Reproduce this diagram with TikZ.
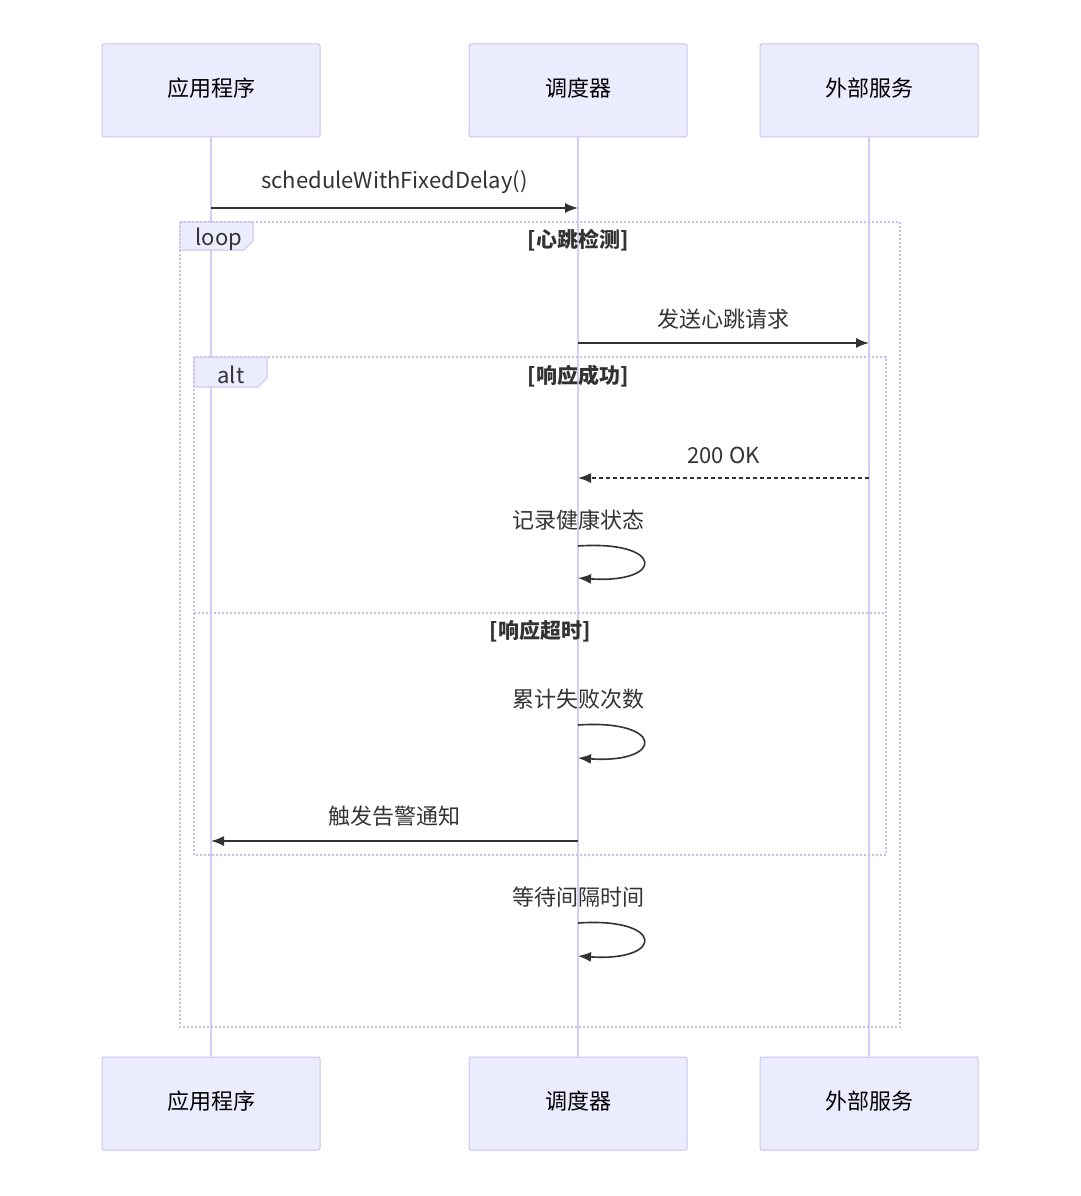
\documentclass[tikz,border=0pt]{standalone}
\usepackage{fontspec}
\setmainfont{Noto Sans CJK SC}
\usepackage{tikz}
\usetikzlibrary{arrows, arrows.meta, positioning, calc}
\definecolor{actorfill}{HTML}{ECECFF}
\definecolor{actorline}{HTML}{CCC3F0}
\definecolor{lifeline}{HTML}{D7CCF2}
\definecolor{msgcol}{HTML}{333333}
\definecolor{framecol}{HTML}{C9BEEC}
\tikzset{
  actor/.style={draw=actorline, fill=actorfill, line width=1pt, rounded corners=2pt,
    minimum width=218pt, minimum height=93pt, font=\fontsize{22}{26}\selectfont},
  msg/.style={draw=msgcol, line width=1.6pt, -{Latex[length=13pt,width=10pt]}},
  reply/.style={msg, dash pattern=on 4pt off 3pt},
  frame/.style={draw=framecol, line width=2pt, dash pattern=on 2pt off 2pt},
  tab/.style={draw=framecol, fill=actorfill, line width=1pt},
  lbl/.style={font=\fontsize{22}{26}\selectfont, text=msgcol},
  guard/.style={font=\bfseries\fontsize{21}{25}\selectfont, text=msgcol}
}
\begin{document}
\begin{tikzpicture}[x=1pt,y=-1pt,>=latex']
  \useasboundingbox (0,0) rectangle (1080,1196);
  \fill[white] (0,0) rectangle (1080,1196);
%% Actors
  \node[actor] (appT) at (211,90.5) {\raisebox{6pt}{应用程序}};
  \node[actor] (schT) at (578,90.5) {\raisebox{6pt}{调度器}};
  \node[actor] (extT) at (869,90.5) {\raisebox{6pt}{外部服务}};
  \node[actor] (appB) at (211,1103.5) {\raisebox{6pt}{应用程序}};
  \node[actor] (schB) at (578,1103.5) {\raisebox{6pt}{调度器}};
  \node[actor] (extB) at (869,1103.5) {\raisebox{6pt}{外部服务}};
%% Lifelines
  \draw[lifeline, line width=1.6pt] (appT) -- (appB);
  \draw[lifeline, line width=1.6pt] (schT) -- (schB);
  \draw[lifeline, line width=1.6pt] (extT) -- (extB);
%% Frames
  \draw[frame] (180,222) rectangle (900,1027);
  \draw[tab] (180,222) -- (253,222) -- (253,241) -- (244,250) -- (180,250) -- cycle;
  \node[lbl, anchor=west] (loopL) at (192,239) {loop};
  \node[guard] (loopG) at (578,240) {[心跳检测]};
  \draw[frame] (194,357) rectangle (886,855);
  \draw[tab] (194,357) -- (267,357) -- (267,378) -- (258,387) -- (194,387) -- cycle;
  \node[lbl] (altL) at (231,375) {alt};
  \node[guard] (altG) at (578,376) {[响应成功]};
  \draw[frame] (194,613) -- (886,613);
  \node[guard] (elseG) at (540,631) {[响应超时]};
%% Message anchors
  \coordinate (a1) at (211,208); \coordinate (s1) at (578,208);
  \coordinate (s2) at (578,343); \coordinate (e2) at (869,343);
  \coordinate (e3) at (869,478); \coordinate (s3) at (578,478);
  \coordinate (s4) at (578,546); \coordinate (s4b) at (578,578);
  \coordinate (s5) at (578,725); \coordinate (s5b) at (578,758);
  \coordinate (s6) at (578,841); \coordinate (a6) at (211,841);
  \coordinate (s7) at (578,923); \coordinate (s7b) at (578,956);
%% Messages
  \draw[msg] (a1) -- node[lbl, above=10pt] {scheduleWithFixedDelay()} (s1);
  \draw[msg] (s2) -- node[lbl, above=10pt] {发送心跳请求} (e2);
  \draw[reply] (e3) -- node[lbl, above=10pt] {200 OK} (s3);
  \node[lbl] (m4) at (578,520) {记录健康状态};
  \draw[msg] (s4) .. controls (665,540) and (665,584) .. (s4b);
  \node[lbl] (m5) at (578,699) {累计失败次数};
  \draw[msg] (s5) .. controls (665,719) and (665,764) .. (s5b);
  \draw[msg] (s6) -- node[lbl, above=10pt] {触发告警通知} (a6);
  \node[lbl] (m7) at (578,897) {等待间隔时间};
  \draw[msg] (s7) .. controls (665,917) and (665,962) .. (s7b);
\end{tikzpicture}
\end{document}
